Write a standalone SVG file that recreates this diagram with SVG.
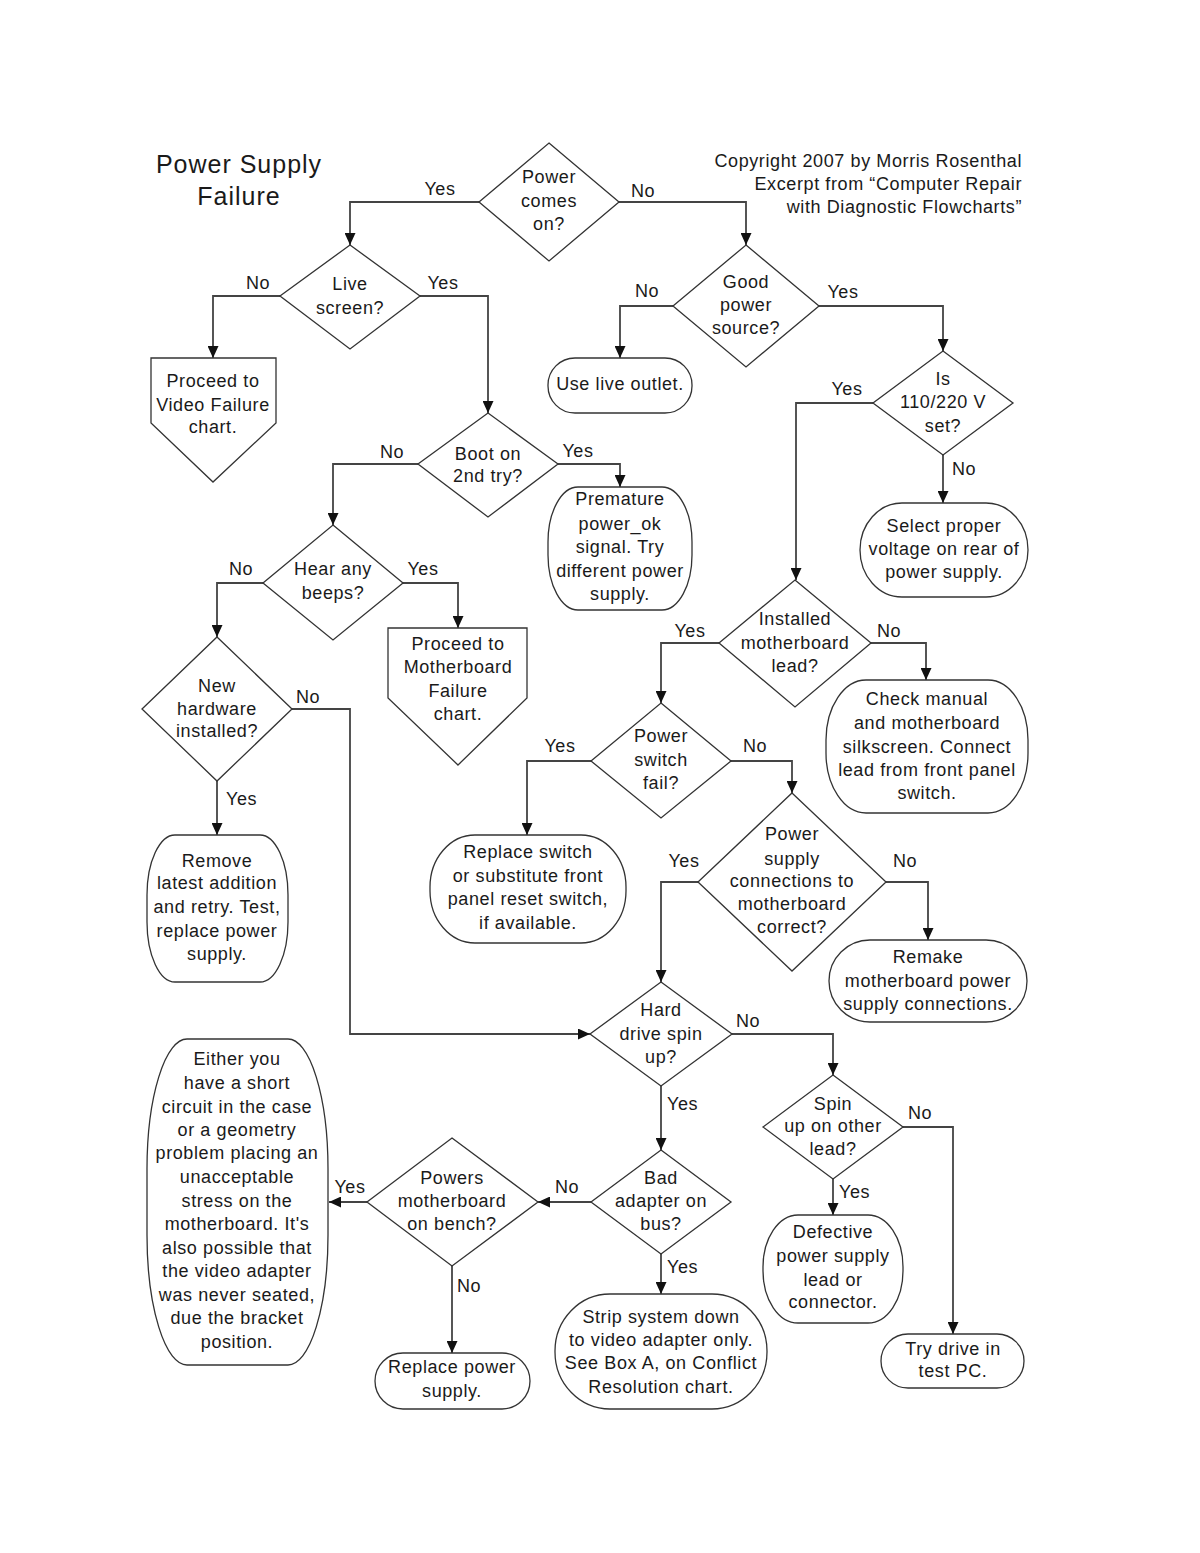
<svg xmlns="http://www.w3.org/2000/svg" width="1200" height="1553" viewBox="0 0 1200 1553">
<style>
.shape{fill:#fff;stroke:#333;stroke-width:1.3}
.conn{fill:none;stroke:#444;stroke-width:1.8}
text{font-family:"Liberation Sans",Arial,sans-serif;font-size:18px;fill:#1a1a1a;letter-spacing:0.6px}
.c{text-anchor:middle}
.s{text-anchor:start}
.e{text-anchor:end}
.title{font-size:25px;letter-spacing:1px}
</style>
<defs>
<marker id="arr" viewBox="0 0 12 11" refX="12" refY="5.5" markerWidth="12" markerHeight="11" markerUnits="userSpaceOnUse" orient="auto">
<path d="M0,0 L12,5.5 L0,11 z" fill="#111"/>
</marker>
</defs>
<rect width="1200" height="1553" fill="#fff"/>

<g id="title">
<text class="c title" x="239" y="173">Power Supply</text>
<text class="c title" x="239" y="205">Failure</text>
</g>
<g id="copyright">
<text class="e" x="1022" y="167">Copyright 2007 by Morris Rosenthal</text>
<text class="e" x="1022" y="190">Excerpt from “Computer Repair</text>
<text class="e" x="1022" y="213">with Diagnostic Flowcharts”</text>
</g>

<g id="connectors">
<path class="conn" d="M479,202 H350 V245" marker-end="url(#arr)"/>
<path class="conn" d="M618,202 H746 V245" marker-end="url(#arr)"/>
<path class="conn" d="M280,296 H213 V358" marker-end="url(#arr)"/>
<path class="conn" d="M420,296 H488 V413" marker-end="url(#arr)"/>
<path class="conn" d="M673,306 H620 V358" marker-end="url(#arr)"/>
<path class="conn" d="M819,306 H943 V351" marker-end="url(#arr)"/>
<path class="conn" d="M558,464 H620 V487" marker-end="url(#arr)"/>
<path class="conn" d="M418,464 H333 V525" marker-end="url(#arr)"/>
<path class="conn" d="M873,403 H796 V580" marker-end="url(#arr)"/>
<path class="conn" d="M943,455 V503" marker-end="url(#arr)"/>
<path class="conn" d="M263,583 H217 V637" marker-end="url(#arr)"/>
<path class="conn" d="M403,583 H458 V628" marker-end="url(#arr)"/>
<path class="conn" d="M292,709 H350 V1034 H590" marker-end="url(#arr)"/>
<path class="conn" d="M217,781 V835" marker-end="url(#arr)"/>
<path class="conn" d="M719,643 H661 V703" marker-end="url(#arr)"/>
<path class="conn" d="M871,643 H926 V680" marker-end="url(#arr)"/>
<path class="conn" d="M591,761 H527 V835" marker-end="url(#arr)"/>
<path class="conn" d="M731,761 H792 V793" marker-end="url(#arr)"/>
<path class="conn" d="M698,882 H661 V982" marker-end="url(#arr)"/>
<path class="conn" d="M886,882 H928 V940" marker-end="url(#arr)"/>
<path class="conn" d="M732,1034 H833 V1075" marker-end="url(#arr)"/>
<path class="conn" d="M661,1086 V1150" marker-end="url(#arr)"/>
<path class="conn" d="M903,1127 H953 V1334" marker-end="url(#arr)"/>
<path class="conn" d="M833,1179 V1215" marker-end="url(#arr)"/>
<path class="conn" d="M591,1202 H538" marker-end="url(#arr)"/>
<path class="conn" d="M661,1254 V1294" marker-end="url(#arr)"/>
<path class="conn" d="M367,1202 H329" marker-end="url(#arr)"/>
<path class="conn" d="M452,1266 V1353" marker-end="url(#arr)"/>
<text class="c" x="440" y="195">Yes</text>
<text class="c" x="643" y="197">No</text>
<text class="c" x="258" y="289">No</text>
<text class="c" x="443" y="289">Yes</text>
<text class="c" x="647" y="297">No</text>
<text class="c" x="843" y="298">Yes</text>
<text class="c" x="578" y="457">Yes</text>
<text class="c" x="392" y="458">No</text>
<text class="c" x="847" y="395">Yes</text>
<text class="s" x="952" y="475">No</text>
<text class="c" x="241" y="575">No</text>
<text class="c" x="423" y="575">Yes</text>
<text class="c" x="308" y="703">No</text>
<text class="s" x="226" y="805">Yes</text>
<text class="c" x="690" y="637">Yes</text>
<text class="c" x="889" y="637">No</text>
<text class="c" x="560" y="752">Yes</text>
<text class="c" x="755" y="752">No</text>
<text class="c" x="684" y="867">Yes</text>
<text class="c" x="905" y="867">No</text>
<text class="c" x="748" y="1027">No</text>
<text class="s" x="667" y="1110">Yes</text>
<text class="c" x="920" y="1119">No</text>
<text class="s" x="839" y="1198">Yes</text>
<text class="c" x="567" y="1193">No</text>
<text class="s" x="667" y="1273">Yes</text>
<text class="c" x="350" y="1193">Yes</text>
<text class="s" x="457" y="1292">No</text>
</g>

<g id="power-comes-on">
<polygon class="shape" points="549,143 619,202 549,261 479,202"/>
<text class="c" x="549" y="183">Power</text>
<text class="c" x="549" y="207">comes</text>
<text class="c" x="549" y="230">on?</text>
</g>
<g id="live-screen">
<polygon class="shape" points="350,245 420,296 350,349 280,296"/>
<text class="c" x="350" y="290">Live</text>
<text class="c" x="350" y="314">screen?</text>
</g>
<g id="good-power">
<polygon class="shape" points="746,245 819,306 746,367 673,306"/>
<text class="c" x="746" y="288">Good</text>
<text class="c" x="746" y="311">power</text>
<text class="c" x="746" y="334">source?</text>
</g>
<g id="use-live-outlet">
<rect class="shape" x="548" y="358" width="144" height="55" rx="27" ry="27"/>
<text class="c" x="620" y="390">Use live outlet.</text>
</g>
<g id="video-failure">
<polygon class="shape" points="151,358 276,358 276,423 213,482 151,423"/>
<text class="c" x="213" y="387">Proceed to</text>
<text class="c" x="213" y="411">Video Failure</text>
<text class="c" x="213" y="433">chart.</text>
</g>
<g id="boot-2nd">
<polygon class="shape" points="488,413 558,464 488,517 418,464"/>
<text class="c" x="488" y="460">Boot on</text>
<text class="c" x="488" y="482">2nd try?</text>
</g>
<g id="voltage-set">
<polygon class="shape" points="943,351 1013,403 943,455 873,403"/>
<text class="c" x="943" y="385">Is</text>
<text class="c" x="943" y="408">110/220 V</text>
<text class="c" x="943" y="432">set?</text>
</g>
<g id="select-voltage">
<rect class="shape" x="860" y="503" width="168" height="94" rx="42" ry="47"/>
<text class="c" x="944" y="532">Select proper</text>
<text class="c" x="944" y="555">voltage on rear of</text>
<text class="c" x="944" y="578">power supply.</text>
</g>
<g id="premature">
<rect class="shape" x="548" y="487" width="144" height="123" rx="30" ry="55"/>
<text class="c" x="620" y="505">Premature</text>
<text class="c" x="620" y="530">power_ok</text>
<text class="c" x="620" y="553">signal. Try</text>
<text class="c" x="620" y="577">different power</text>
<text class="c" x="620" y="600">supply.</text>
</g>
<g id="hear-beeps">
<polygon class="shape" points="333,525 403,583 333,640 263,583"/>
<text class="c" x="333" y="575">Hear any</text>
<text class="c" x="333" y="599">beeps?</text>
</g>
<g id="motherboard-failure">
<polygon class="shape" points="388,628 527,628 527,698 458,765 388,698"/>
<text class="c" x="458" y="650">Proceed to</text>
<text class="c" x="458" y="673">Motherboard</text>
<text class="c" x="458" y="697">Failure</text>
<text class="c" x="458" y="720">chart.</text>
</g>
<g id="new-hardware">
<polygon class="shape" points="217,637 292,709 217,781 142,709"/>
<text class="c" x="217" y="692">New</text>
<text class="c" x="217" y="715">hardware</text>
<text class="c" x="217" y="737">installed?</text>
</g>
<g id="remove-latest">
<rect class="shape" x="147" y="835" width="141" height="147" rx="28" ry="60"/>
<text class="c" x="217" y="867">Remove</text>
<text class="c" x="217" y="889">latest addition</text>
<text class="c" x="217" y="913">and retry. Test,</text>
<text class="c" x="217" y="937">replace power</text>
<text class="c" x="217" y="960">supply.</text>
</g>
<g id="installed-lead">
<polygon class="shape" points="795,580 871,643 795,707 719,643"/>
<text class="c" x="795" y="625">Installed</text>
<text class="c" x="795" y="649">motherboard</text>
<text class="c" x="795" y="672">lead?</text>
</g>
<g id="check-manual">
<rect class="shape" x="826" y="680" width="202" height="133" rx="40" ry="60"/>
<text class="c" x="927" y="705">Check manual</text>
<text class="c" x="927" y="729">and motherboard</text>
<text class="c" x="927" y="753">silkscreen. Connect</text>
<text class="c" x="927" y="776">lead from front panel</text>
<text class="c" x="927" y="799">switch.</text>
</g>
<g id="power-switch">
<polygon class="shape" points="661,703 731,761 661,818 591,761"/>
<text class="c" x="661" y="742">Power</text>
<text class="c" x="661" y="766">switch</text>
<text class="c" x="661" y="789">fail?</text>
</g>
<g id="replace-switch">
<rect class="shape" x="430" y="835" width="196" height="108" rx="45" ry="52"/>
<text class="c" x="528" y="858">Replace switch</text>
<text class="c" x="528" y="882">or substitute front</text>
<text class="c" x="528" y="905">panel reset switch,</text>
<text class="c" x="528" y="929">if available.</text>
</g>
<g id="ps-connections">
<polygon class="shape" points="792,793 886,882 792,971 698,882"/>
<text class="c" x="792" y="840">Power</text>
<text class="c" x="792" y="865">supply</text>
<text class="c" x="792" y="887">connections to</text>
<text class="c" x="792" y="910">motherboard</text>
<text class="c" x="792" y="933">correct?</text>
</g>
<g id="remake">
<rect class="shape" x="829" y="940" width="198" height="82" rx="41" ry="41"/>
<text class="c" x="928" y="963">Remake</text>
<text class="c" x="928" y="987">motherboard power</text>
<text class="c" x="928" y="1010">supply connections.</text>
</g>
<g id="hard-drive">
<polygon class="shape" points="661,982 732,1034 661,1086 590,1034"/>
<text class="c" x="661" y="1016">Hard</text>
<text class="c" x="661" y="1040">drive spin</text>
<text class="c" x="661" y="1063">up?</text>
</g>
<g id="spin-other">
<polygon class="shape" points="833,1075 903,1127 833,1179 763,1127"/>
<text class="c" x="833" y="1110">Spin</text>
<text class="c" x="833" y="1132">up on other</text>
<text class="c" x="833" y="1155">lead?</text>
</g>
<g id="defective">
<rect class="shape" x="763" y="1215" width="140" height="108" rx="35" ry="52"/>
<text class="c" x="833" y="1238">Defective</text>
<text class="c" x="833" y="1262">power supply</text>
<text class="c" x="833" y="1286">lead or</text>
<text class="c" x="833" y="1308">connector.</text>
</g>
<g id="try-drive">
<rect class="shape" x="881" y="1334" width="143" height="54" rx="27" ry="27"/>
<text class="c" x="953" y="1355">Try drive in</text>
<text class="c" x="953" y="1377">test PC.</text>
</g>
<g id="bad-adapter">
<polygon class="shape" points="661,1150 731,1202 661,1254 591,1202"/>
<text class="c" x="661" y="1184">Bad</text>
<text class="c" x="661" y="1207">adapter on</text>
<text class="c" x="661" y="1230">bus?</text>
</g>
<g id="strip-system">
<rect class="shape" x="555" y="1294" width="212" height="115" rx="55" ry="57"/>
<text class="c" x="661" y="1323">Strip system down</text>
<text class="c" x="661" y="1346">to video adapter only.</text>
<text class="c" x="661" y="1369">See Box A, on Conflict</text>
<text class="c" x="661" y="1393">Resolution chart.</text>
</g>
<g id="powers-bench">
<polygon class="shape" points="452,1138 538,1202 452,1266 367,1202"/>
<text class="c" x="452" y="1184">Powers</text>
<text class="c" x="452" y="1207">motherboard</text>
<text class="c" x="452" y="1230">on bench?</text>
</g>
<g id="short-circuit">
<rect class="shape" x="147" y="1039" width="181" height="326" rx="40" ry="130"/>
<text class="c" x="237" y="1065">Either you</text>
<text class="c" x="237" y="1089">have a short</text>
<text class="c" x="237" y="1113">circuit in the case</text>
<text class="c" x="237" y="1136">or a geometry</text>
<text class="c" x="237" y="1159">problem placing an</text>
<text class="c" x="237" y="1183">unacceptable</text>
<text class="c" x="237" y="1207">stress on the</text>
<text class="c" x="237" y="1230">motherboard. It's</text>
<text class="c" x="237" y="1254">also possible that</text>
<text class="c" x="237" y="1277">the video adapter</text>
<text class="c" x="237" y="1301">was never seated,</text>
<text class="c" x="237" y="1324">due the bracket</text>
<text class="c" x="237" y="1348">position.</text>
</g>
<g id="replace-power-supply">
<rect class="shape" x="375" y="1353" width="155" height="56" rx="28" ry="28"/>
<text class="c" x="452" y="1373">Replace power</text>
<text class="c" x="452" y="1397">supply.</text>
</g>
</svg>
